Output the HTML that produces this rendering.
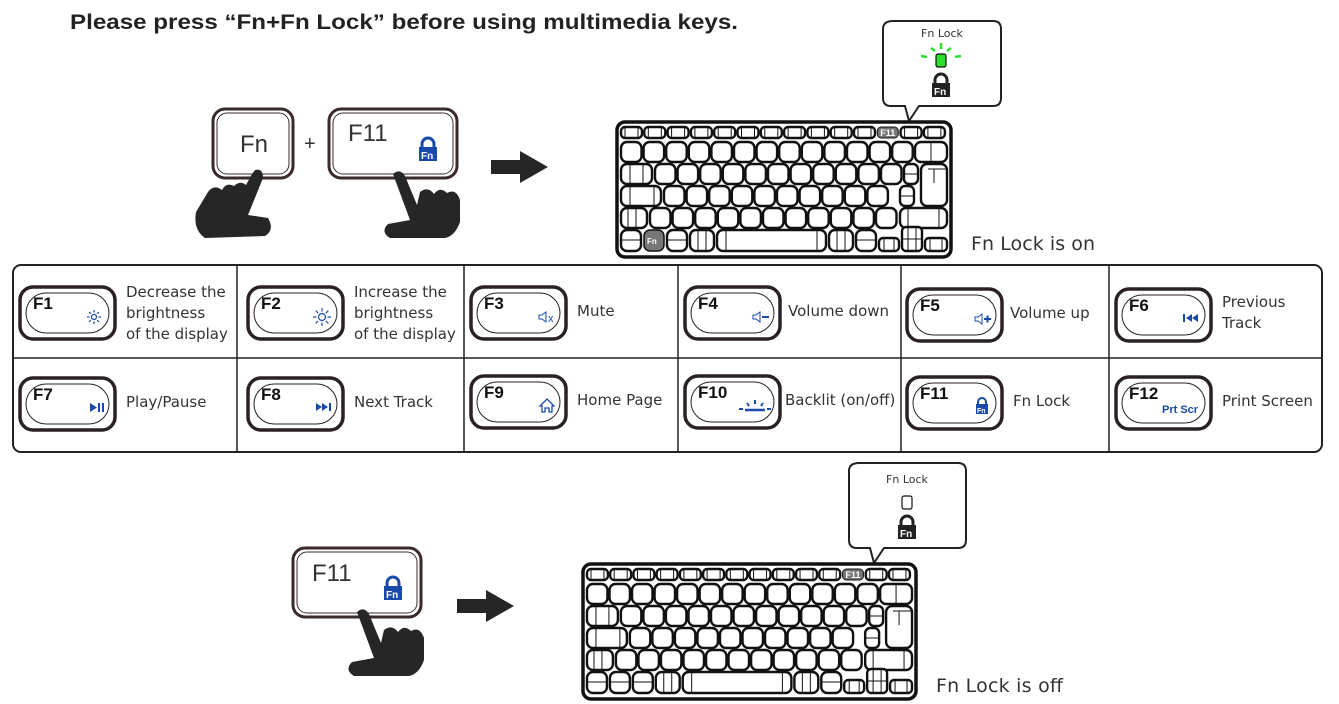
<!DOCTYPE html>
<html><head><meta charset="utf-8">
<style>
html,body{margin:0;padding:0;background:#fff;}
body{width:1339px;height:704px;overflow:hidden;position:relative;font-family:"Liberation Sans",sans-serif;}
svg{position:absolute;left:0;top:0;}
.t{font-family:"DejaVu Sans","Liberation Sans",sans-serif;font-size:15px;fill:#333;}
.kl{font-family:"Liberation Sans",sans-serif;font-weight:bold;font-size:17px;fill:#111;}
.blue{fill:#1a4aa8;}
</style></head><body>
<svg id="s" width="1339" height="704" viewBox="0 0 1339 704" xmlns="http://www.w3.org/2000/svg">
<text x="70" y="29" font-family="Liberation Sans" font-weight="bold" font-size="21" fill="#222" textLength="668" lengthAdjust="spacingAndGlyphs">Please press “Fn+Fn Lock” before using multimedia keys.</text>

<!-- big keys top -->
<rect x="213" y="109" width="80" height="69" rx="12" fill="#fff" stroke="#3a2a2a" stroke-width="3"/>
<rect x="217" y="113" width="72" height="61" rx="10" fill="none" stroke="#3a2a2a" stroke-width="1"/>
<text x="240" y="152" font-size="24" fill="#333" font-family="Liberation Sans">Fn</text>
<text x="304" y="150" font-size="20" fill="#333">+</text>
<rect x="329" y="109" width="128" height="69" rx="12" fill="#fff" stroke="#3a2a2a" stroke-width="3"/>
<rect x="333" y="113" width="120" height="61" rx="10" fill="none" stroke="#3a2a2a" stroke-width="1"/>
<text x="348" y="141" font-size="24" fill="#333">F11</text>
<g transform="translate(419,139)"><path d="M3,8 V5 A6,6 0 0 1 15,5 V8" fill="none" stroke="#1a4aa8" stroke-width="3"/><rect x="0" y="8" width="18" height="14" fill="#1a4aa8"/><text x="2" y="20" font-size="10" font-weight="bold" fill="#fff">Fn</text></g>
<!-- hands -->
<path d="M255,170 Q263,168 263,178 L248,215 L268,218 Q275,230 265,236 L205,238 Q193,230 196,212 L208,192 Q214,184 222,190 Q226,182 234,186 Q240,180 246,185 L252,174 Z" fill="#262626"/>
<path d="M393,174 Q400,168 405,176 L417,205 L420,192 Q428,186 434,194 Q440,186 447,193 Q456,188 460,200 L460,222 Q455,236 445,238 L390,238 Q380,232 388,224 L410,220 Z" fill="#262626"/>
<path d="M491,160 H520 V151 L548,167 L520,183 V174 H491 Z" fill="#262626"/>

<!-- bottom F11 -->
<rect x="293" y="548" width="128" height="69" rx="12" fill="#fff" stroke="#3a2a2a" stroke-width="3"/>
<rect x="297" y="552" width="120" height="61" rx="10" fill="none" stroke="#3a2a2a" stroke-width="1"/>
<text x="312" y="581" font-size="24" fill="#333">F11</text>
<g transform="translate(384,578)"><path d="M3,8 V5 A6,6 0 0 1 15,5 V8" fill="none" stroke="#1a4aa8" stroke-width="3"/><rect x="0" y="8" width="18" height="14" fill="#1a4aa8"/><text x="2" y="20" font-size="10" font-weight="bold" fill="#fff">Fn</text></g>
<path d="M357,612 Q364,606 369,614 L381,643 L384,630 Q392,624 398,632 Q404,624 411,631 Q420,626 424,638 L424,660 Q419,674 409,676 L354,676 Q344,670 352,662 L374,658 Z" fill="#262626"/>
<path d="M457,599 H486 V590 L514,606 L486,622 V613 H457 Z" fill="#262626"/>

<!-- bubbles -->
<path d="M893,21 H993 Q1001,21 1001,29 V98 Q1001,106 993,106 H919 L909,121 L905,106 H891 Q883,106 883,98 V29 Q883,21 893,21 Z" fill="#fff" stroke="#222" stroke-width="2"/>
<text x="942" y="37" text-anchor="middle" font-size="11" fill="#333" font-family="DejaVu Sans">Fn Lock</text>
<rect x="936" y="54" width="10" height="13" rx="2" fill="#2de02d" stroke="#111" stroke-width="1.2"/>
<g stroke="#2de02d" stroke-width="2.5"><line x1="941" y1="43" x2="941" y2="49"/><line x1="931" y1="48" x2="935" y2="51"/><line x1="951" y1="48" x2="947" y2="51"/><line x1="921" y1="56" x2="927" y2="57"/><line x1="961" y1="56" x2="955" y2="57"/></g>
<g transform="translate(932,75)"><path d="M3,8 V5 A6,6 0 0 1 15,5 V8" fill="none" stroke="#222" stroke-width="3"/><rect x="0" y="8" width="18" height="14" fill="#222"/><text x="2" y="20" font-size="10" font-weight="bold" fill="#fff">Fn</text></g>

<path d="M859,463 H958 Q966,463 966,471 V540 Q966,548 958,548 H884 L874,563 L870,548 H857 Q849,548 849,540 V471 Q849,463 859,463 Z" fill="#fff" stroke="#222" stroke-width="2"/>
<text x="907" y="483" text-anchor="middle" font-size="11" fill="#333" font-family="DejaVu Sans">Fn Lock</text>
<rect x="902" y="496" width="10" height="13" rx="2" fill="#fff" stroke="#111" stroke-width="1.2"/>
<g transform="translate(898,517)"><path d="M3,8 V5 A6,6 0 0 1 15,5 V8" fill="none" stroke="#222" stroke-width="3"/><rect x="0" y="8" width="18" height="14" fill="#222"/><text x="2" y="20" font-size="10" font-weight="bold" fill="#fff">Fn</text></g>

<text x="971" y="250" font-family="DejaVu Sans" fill="#333" style="font-size:19px" textLength="124">Fn Lock is on</text>
<text x="936" y="692" font-family="DejaVu Sans" fill="#333" style="font-size:19px" textLength="127">Fn Lock is off</text>

<!-- table -->
<rect x="13" y="265" width="1309" height="187" rx="8" fill="none" stroke="#222" stroke-width="2"/>
<line x1="13" y1="358" x2="1322" y2="358" stroke="#222" stroke-width="1.5"/>
<g stroke="#222" stroke-width="1.5"><line x1="237" y1="265" x2="237" y2="452"/><line x1="464" y1="265" x2="464" y2="452"/><line x1="678" y1="265" x2="678" y2="452"/><line x1="901" y1="265" x2="901" y2="452"/><line x1="1109" y1="265" x2="1109" y2="452"/></g>
<g id="cells"></g>
<g id="kbs"></g>
</svg>
<script>
var NS="http://www.w3.org/2000/svg";
function add(p,tag,a,txt){var e=document.createElementNS(NS,tag);for(var k in a)e.setAttribute(k,a[k]);if(txt)e.textContent=txt;p.appendChild(e);return e;}
var cells=document.getElementById('cells');
var data=[
[20,287,'F1','sun',['Decrease the','brightness','of the display']],
[248,287,'F2','sun2',['Increase the','brightness','of the display']],
[471,287,'F3','mute',['Mute']],
[685,287,'F4','vdn',['Volume down']],
[907,289,'F5','vup',['Volume up']],
[1116,289,'F6','prev',['Previous','Track']],
[20,378,'F7','play',['Play/Pause']],
[248,378,'F8','next',['Next Track']],
[471,376,'F9','home',['Home Page']],
[685,376,'F10','bl',['Backlit (on/off)']],
[907,377,'F11','lock',['Fn Lock']],
[1116,377,'F12','prt',['Print Screen']]];
data.forEach(function(d){
 var x=d[0],y=d[1];
 add(cells,'rect',{x:x,y:y,width:95,height:52,rx:13,fill:'#fff',stroke:'#2a2222','stroke-width':3.5});
 add(cells,'rect',{x:x+6,y:y+6,width:83,height:40,rx:20,fill:'none',stroke:'#2a2222','stroke-width':1});
 add(cells,'text',{x:x+13,y:y+22,'class':'kl'},d[2]);
 var ix=x+70,iy=y+34,g=add(cells,'g',{fill:'#1a4aa8',stroke:'#1a4aa8'});
 var t=d[3];
 if(t=='sun'||t=='sun2'){add(g,'circle',{cx:ix+4,cy:iy-4,r:t=='sun'?2.5:3.5,fill:'none','stroke-width':1.2});
  for(var i=0;i<8;i++){var a=i*Math.PI/4,r1=t=='sun'?4.5:5.5,r2=t=='sun'?7:9;add(g,'line',{x1:ix+4+r1*Math.cos(a),y1:iy-4+r1*Math.sin(a),x2:ix+4+r2*Math.cos(a),y2:iy-4+r2*Math.sin(a),'stroke-width':1.2});}}
 else if(t=='mute'||t=='vdn'||t=='vup'){add(g,'path',{d:'M'+(ix-2)+','+(iy-6)+'h3l4,-3v10l-4,-3h-3z',fill:'none','stroke-width':1});
  if(t=='mute')add(cells,'text',{x:ix+7,y:iy+1,'font-size':11,'class':'blue'},'x');
  if(t=='vdn')add(g,'line',{x1:ix+7,y1:iy-4,x2:ix+14,y2:iy-4,'stroke-width':2});
  if(t=='vup'){add(g,'line',{x1:ix+7,y1:iy-4,x2:ix+14,y2:iy-4,'stroke-width':2});add(g,'line',{x1:ix+10.5,y1:iy-7.5,x2:ix+10.5,y2:iy-0.5,'stroke-width':2});}}
 else if(t=='prev'){add(g,'rect',{x:ix-3,y:iy-9,width:2,height:8,stroke:'none'});add(g,'path',{d:'M'+ix+','+(iy-5)+'l6,-4v8z M'+(ix+6)+','+(iy-5)+'l6,-4v8z',stroke:'none'});}
 else if(t=='play'){add(g,'path',{d:'M'+ix+','+(iy-9)+'l7,4.5l-7,4.5z',stroke:'none'});add(g,'rect',{x:ix+8,y:iy-9,width:2,height:9,stroke:'none'});add(g,'rect',{x:ix+12,y:iy-9,width:2,height:9,stroke:'none'});}
 else if(t=='next'){add(g,'path',{d:'M'+(ix-2)+','+(iy-9)+'l6,4v0l-6,4z M'+(ix+4)+','+(iy-9)+'l6,4l-6,4z',stroke:'none'});add(g,'rect',{x:ix+11,y:iy-9,width:2,height:8,stroke:'none'});}
 else if(t=='home'){add(g,'path',{d:'M'+(ix-1)+','+(iy-4)+'l7,-7l7,7h-2v6h-3v-4h-4v4h-3v-6z',fill:'none','stroke-width':1.3});}
 else if(t=='bl'){add(g,'line',{x1:ix-10,y1:iy,x2:ix+10,y2:iy,'stroke-width':2.5});add(g,'line',{x1:ix-16,y1:iy-1,x2:ix-12,y2:iy-1,'stroke-width':2});add(g,'line',{x1:ix+12,y1:iy-1,x2:ix+16,y2:iy-1,'stroke-width':2});add(g,'line',{x1:ix,y1:iy-10,x2:ix,y2:iy-6,'stroke-width':2});add(g,'line',{x1:ix-8,y1:iy-7,x2:ix-6,y2:iy-4,'stroke-width':2});add(g,'line',{x1:ix+8,y1:iy-7,x2:ix+6,y2:iy-4,'stroke-width':2});}
 else if(t=='lock'){add(g,'path',{d:'M'+(ix+1)+','+(iy-7)+'v-2a4,4 0 0 1 8,0v2',fill:'none','stroke-width':2});add(g,'rect',{x:ix-1,y:iy-7,width:12,height:10,stroke:'none'});add(cells,'text',{x:ix,y:iy+2,'font-size':7,'font-weight':'bold',fill:'#fff'},'Fn');}
 else if(t=='prt'){add(cells,'text',{x:x+46,y:y+36,'font-size':11,'font-weight':'bold','class':'blue'},'Prt Scr');}
 var lx=x+106, n=d[4].length, y0=n==3?y+10:(n==2?y+18:y+29);
 if(t=='vdn'||t=='vup') lx=x+103;
 if(t=='bl') lx=x+100;
 d[4].forEach(function(s,i){add(cells,'text',{x:lx,y:y0+i*21,'class':'t'},s);});
});
// keyboards
var kbs=document.getElementById('kbs');
function kb(X,Y,W,H,fnGrey){
 var sx=W/336, sy=H/137;
 function R(x,y,w,h,r,opt){var a={x:X+x*sx,y:Y+y*sy,width:w*sx,height:h*sy,rx:r,fill:(opt&&opt.fill)||'#fff',stroke:'#111','stroke-width':(opt&&opt.sw)||2.4};return add(kbs,'rect',a);}
 function L(x1,y1,x2,y2){add(kbs,'line',{x1:X+x1*sx,y1:Y+y1*sy,x2:X+x2*sx,y2:Y+y2*sy,stroke:'#111','stroke-width':1});}
 R(1,1,334,135,8,{sw:3.5});
 for(var i=0;i<14;i++){var x=5+i*23.3;
  if(i==11){R(x,6,21,11,4,{fill:'#777',sw:1});add(kbs,'text',{x:X+(x+3)*sx,y:Y+15*sy,'font-size':9,'font-weight':'bold',fill:'#fff'},'F11');}
  else{R(x,6,21,11,4);L(x+4,6,x+4,17);L(x+17,6,x+17,17);}}
 for(var i=0;i<13;i++){R(5+i*22.6,21,20.5,20,6);}
 R(299,21,32,20,6);L(315,21,315,41);
 R(5,43,31,20,6);L(14,43,14,63);L(27,43,27,63);
 for(var i=0;i<11;i++)R(39+i*22.6,43,20.5,20,6);
 R(288,43,14,20,5);L(288,53,302,53);
 R(305,43,26,42,6);L(312,48,331,48);L(318,48,318,62);
 R(5,65,40,20,6);L(14,65,14,85);L(38,65,38,85);
 for(var i=0;i<10;i++)R(48+i*22.6,65,20.5,20,6);
 R(284,65,14,20,5);L(284,75,298,75);
 R(5,87,26,20,6);L(12,87,12,107);L(20,87,20,107);
 for(var i=0;i<11;i++)R(34+i*22.6,87,20.5,20,6);
 R(284,87,47,20,6);L(292,87,292,107);L(323,87,323,107);
 R(5,109,20,21,6);L(5,119,25,119);
 if(fnGrey) R(28,109,20,21,6,{fill:'#777',sw:1.5}); else {R(28,109,20,21,6);L(28,119,48,119);}
 R(51,109,20,21,6);L(51,119,71,119);
 R(74,109,24,21,6);L(82,109,82,130);L(90,109,90,130);
 R(101,109,109,21,6);L(110,109,110,130);L(201,109,201,130);
 R(213,109,24,21,6);L(221,109,221,130);L(229,109,229,130);
 R(240,109,20,21,6);L(240,119,260,119);
 R(263,117,20,13,4);L(268,117,268,130);L(278,117,278,130);
 R(286,106,20,24,4);L(286,118,306,118);L(292,106,292,130);L(300,106,300,130);
 R(309,117,22,13,4);L(314,117,314,130);L(326,117,326,130);
 return {sx:sx,sy:sy};
}
var k1=kb(616,121,336,137,true);
add(kbs,'text',{x:616+31*k1.sx,y:121+123*k1.sy,'font-size':8,'font-weight':'bold',fill:'#fff'},'Fn');
kb(582,563,335,137,false);
</script>
</body></html>
